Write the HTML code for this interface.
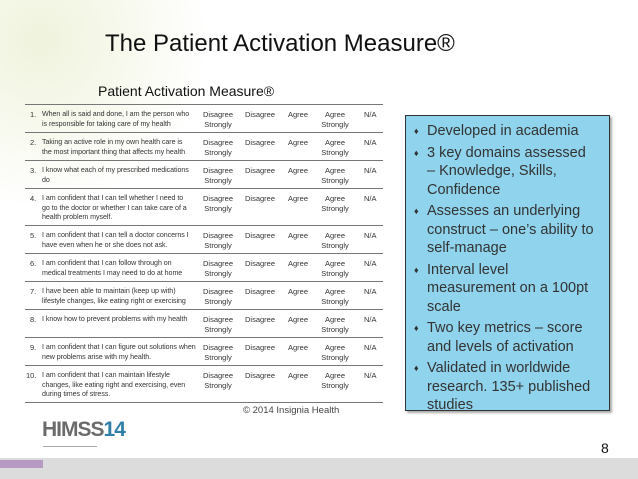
<!DOCTYPE html>
<html><head><meta charset="utf-8"><style>
body{margin:0;width:638px;height:479px;overflow:hidden;background:radial-gradient(circle at 40px 40px,#eff3dc 0px,#fff 170px);font-family:"Liberation Sans",Arial,sans-serif;position:relative}
.abs{position:absolute}
.row{position:absolute;left:25px;width:358px;border-top:1px solid #777;font-size:7.5px;color:#333;line-height:9.5px}
.row div{position:absolute;top:5px;white-space:nowrap}
.row .q{font-size:7.1px;letter-spacing:-0.05px}
.box{position:absolute;left:405px;top:115px;width:205px;height:296px;background:#8fd3ec;border:1px solid #333;box-shadow:2px 2px 2px #aaa;box-sizing:border-box;padding:6px 12px 0 21px;font-size:14.5px;line-height:18.5px;color:#333}
.box p{margin:0 0 3px 0;position:relative}
.box p:before{content:"\2666";position:absolute;left:-13px;font-size:9px}
</style></head><body>
<div class="abs" style="left:105px;top:30px;font-size:24px;color:#111">The Patient Activation Measure®</div>
<div class="abs" style="left:98px;top:83px;font-size:14px;color:#111">Patient Activation Measure®</div>
<div id="tbl"></div>
<div class="abs" style="left:25px;top:402px;width:358px;border-top:1px solid #777"></div>
<div class="abs" style="left:243px;top:405px;font-size:9.5px;color:#444">© 2014 Insignia Health</div>
<div class="box">
<p>Developed in academia</p>
<p>3 key domains assessed – Knowledge, Skills, Confidence</p>
<p>Assesses an underlying construct – one’s ability to self-manage</p>
<p>Interval level measurement on a 100pt scale</p>
<p>Two key metrics – score and levels of activation</p>
<p>Validated in worldwide research. 135+ published studies</p>
</div>
<div class="abs" style="left:42px;top:418px;font-size:21px;font-weight:bold;letter-spacing:-1px;color:#6b6b6b">HIMSS<span style="color:#2f7fa8">14</span></div>
<div class="abs" style="left:43px;top:446px;width:54px;height:1px;background:#aaa"></div>
<div class="abs" style="left:601px;top:440px;font-size:14px;color:#111">8</div>
<div class="abs" style="left:0;top:458px;width:638px;height:21px;background:#dcdcdc"></div>
<div class="abs" style="left:0;top:460px;width:43px;height:8px;background:#b59bc4"></div>
<script>
const questions=["When all is said and done, I am the person who|is responsible for taking care of my health","Taking an active role in my own health care is|the most important thing that affects my health","I know what each of my prescribed medications|do","I am confident that I can tell whether I need to|go to the doctor or whether I can take care of a|health problem myself.","I am confident that I can tell a doctor concerns I|have even when he or she does not ask.","I am confident that I can follow through on|medical treatments I may need to do at home","I have been able to maintain (keep up with)|lifestyle changes, like eating right or exercising","I know how to prevent problems with my health","I am confident that I can figure out solutions when|new problems arise with my health.","I am confident that I can maintain lifestyle|changes, like eating right and exercising, even|during times of stress."];
const tall=[3,9];
const t=document.getElementById('tbl');let y=104;
questions.forEach((q,i)=>{
 const r=document.createElement('div');r.className='row';
 
 
 const h=tall.includes(i)?37:28;r.style.top=y+'px';r.style.height=h+'px';y+=h;
 r.innerHTML=`<div style="left:${i==9?1:5}px">${i+1}.</div><div class="q" style="left:17px">${q.split('|').join('<br>')}</div><div style="left:168px;width:50px;text-align:center">Disagree<br>Strongly</div><div style="left:220px">Disagree</div><div style="left:263px">Agree</div><div style="left:285px;width:50px;text-align:center">Agree<br>Strongly</div><div style="left:339px">N/A</div>`;
 t.appendChild(r);
});
</script>
</body></html>
